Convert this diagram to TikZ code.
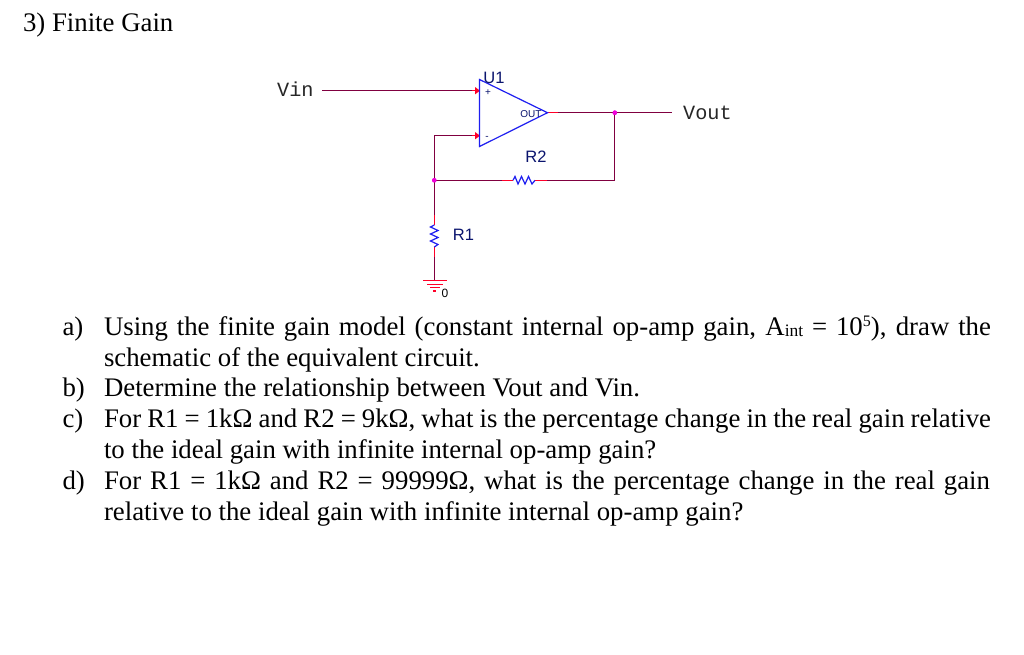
\documentclass[tikz,border=0pt]{standalone}
\usepackage{fontspec}
\setmainfont{Liberation Serif}
\setsansfont{Liberation Sans}
\setmonofont{Liberation Mono}
\definecolor{wirec}{RGB}{128,0,64}
\definecolor{pinc}{RGB}{255,0,40}
\definecolor{partc}{RGB}{30,30,240}
\definecolor{labelc}{RGB}{10,20,110}
\definecolor{dotc}{RGB}{240,0,220}
\newcommand{\bodysize}{\fontsize{26.8}{31}\selectfont}
\newcommand{\jline}[2]{\makebox[#1pt][s]{\spaceskip=0.25em plus 0.5em minus 0.2em\relax #2}}
\tikzset{
  wire/.style={draw=wirec,line width=1.3pt},
  pin/.style={draw=pinc,line width=1.3pt},
  part/.style={draw=partc,line width=1.2pt,line join=miter},
  dot/.style={circle,fill=dotc,inner sep=0pt,minimum size=4.5pt},
  txt/.style={anchor=base west,inner sep=0pt,outer sep=0pt,font=\bodysize,text=black},
  monolabel/.style={anchor=base west,inner sep=0pt,font=\ttfamily\fontsize{20.2}{22}\selectfont,text=black!85},
  partlabel/.style={inner sep=0pt,font=\sffamily\fontsize{16.5}{18}\selectfont,text=labelc},
  pinlabel/.style={inner sep=0pt,font=\sffamily\fontsize{10}{11}\selectfont,text=labelc},
  arrowtip/.style={fill=pinc,draw=none}
}
\begin{document}
\begin{tikzpicture}[x=1pt,y=-1pt]
\useasboundingbox (0,0) rectangle (1024,654);
\fill[white] (0,0) rectangle (1024,654);
% title
\node[txt] (title) at (23,31) {3) Finite Gain};
% named points
\coordinate (vinend) at (322,90.7);
\coordinate (plus) at (472,90.7);
\coordinate (minus) at (472,135.7);
\coordinate (tip) at (547.5,112.7);
\coordinate (outwire) at (558,112.7);
\coordinate (voutend) at (672,112.7);
\coordinate (corner) at (434.3,135.7);
\coordinate (corner2) at (614.8,180.3);
\coordinate (r2a) at (502,180.3);
\coordinate (r2b) at (547,180.3);
\coordinate (r1a) at (434.3,215);
\coordinate (r1b) at (434.3,257);
\coordinate (gnd) at (434.3,280.5);
\node[dot] (jout) at (614.8,112.7) {};
\node[dot] (jfb) at (434.3,180.3) {};
% wires
\draw[wire] (vinend) -- (plus);
\draw[wire] (outwire) -- (jout.center) -- (voutend);
\draw[wire] (jout.center) -- (corner2) -- (r2b);
\draw[wire] (minus) -- (corner) -- (jfb.center) -- (r2a);
\draw[wire] (jfb.center) -- (r1a);
\draw[wire] (r1b) -- (gnd);
\node[dot] at (jout) {};
\node[dot] at (jfb) {};
% pins
\draw[pin] (plus) -- (479.5,90.7);
\draw[pin] (minus) -- (479.5,135.7);
\fill[arrowtip] (475,87) -- (480,90.7) -- (475,94.4) -- cycle;
\fill[arrowtip] (475,132) -- (480,135.7) -- (475,139.4) -- cycle;
\draw[pin] (tip) -- (outwire);
\draw[pin] (r2a) -- (513,180.3);
\draw[pin] (535,180.3) -- (r2b);
\draw[pin] (r1a) -- (434.3,225);
\draw[pin] (434.3,247) -- (r1b);
% op-amp
\draw[part] (479.5,79.5) -- (tip) -- (479.5,146.5) -- cycle;
% resistors
\draw[part] (513,180.3) -- (515,176.5) -- (518,184) -- (521.5,176.5) -- (525,184) -- (528.5,176.5) -- (532,184) -- (535,180.3);
\draw[part] (434.3,225) -- (430.5,227) -- (438,230.5) -- (430.5,234) -- (438,237.5) -- (430.5,241) -- (438,244.5) -- (434.3,247);
% ground
\draw[pin] (423,280.8) -- (447,280.8);
\draw[pin] (427,284.5) -- (443,284.5);
\draw[pin] (430,287.8) -- (440,287.8);
\draw[pin] (433,291) -- (436,291);
% labels
\node[monolabel] (vin) at (277,96.7) {Vin};
\node[monolabel] (vout) at (683,119.2) {Vout};
\node[partlabel] (u1) at (494,77.5) {U1};
\node[pinlabel] (plabel) at (488,92.5) {+};
\node[pinlabel] (mlabel) at (487,137.5) {-};
\node[pinlabel] (outlabel) at (531,114.5) {OUT};
\node[partlabel] (r2) at (536,156.5) {R2};
\node[partlabel] (r1) at (463.5,234.5) {R1};
\node[inner sep=0pt,font=\sffamily\fontsize{12}{13}\selectfont,text=black] (zero) at (445,293) {0};
% text
\node[txt] (la) at (62.5,335) {a)};
\node[txt] (a1) at (104,335) {\jline{887}{Using the finite gain model (constant internal op-amp gain, A\raisebox{-1.5pt}{\fontsize{17.5}{20}\selectfont int} = 10\raisebox{9pt}{\fontsize{16}{20}\selectfont 5}), draw the}};
\node[txt] (a2) at (104,366) {schematic of the equivalent circuit.};
\node[txt] (lb) at (62.5,396) {b)};
\node[txt] (b1) at (104,396) {Determine the relationship between Vout and Vin.};
\node[txt] (lc) at (62.5,427) {c)};
\node[txt] (c1) at (104,427) {\jline{887}{For R1 = 1kΩ and R2 = 9kΩ, what is the percentage change in the real gain relative}};
\node[txt] (c2) at (104,458) {to the ideal gain with infinite internal op-amp gain?};
\node[txt] (ld) at (62.5,489) {d)};
\node[txt] (d1) at (104,489) {\jline{886}{For R1 = 1kΩ and R2 = 99999Ω, what is the percentage change in the real gain}};
\node[txt] (d2) at (104,520) {relative to the ideal gain with infinite internal op-amp gain?};
\end{tikzpicture}
\end{document}
